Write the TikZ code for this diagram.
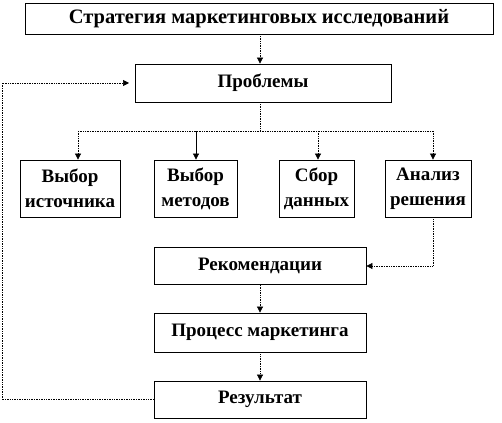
\documentclass[tikz,border=0pt]{standalone}
\usepackage{fontspec}
\setmainfont{Liberation Serif}
\usetikzlibrary{arrows.meta}
\begin{document}
\begin{tikzpicture}[x=1pt,y=-1pt,
  box/.style={draw=black,line width=0.8pt,fill=white,inner sep=0pt,align=center,
    font=\fontsize{19}{25}\selectfont\bfseries},
  dotline/.style={line width=0.7pt,densely dotted},
  dotarrow/.style={dotline,-{Triangle[length=6pt,width=6pt]}},
  solidarrow/.style={line width=0.7pt,-{Triangle[length=6pt,width=6pt]}}]
\useasboundingbox (0,0) rectangle (502,422);
\node[box,minimum width=468pt,minimum height=31pt,font=\fontsize{20.5}{24}\selectfont\bfseries] (strat) at (259,18.5) {Стратегия маркетинговых исследований};
\node[box,minimum width=256pt,minimum height=38pt] (prob) at (263,83) {Проблемы};
\node[box,minimum width=100pt,minimum height=57pt] (b1) at (70,188.5) {Выбор\\источника};
\node[box,minimum width=83pt,minimum height=57pt] (b2) at (195.5,188.5) {Выбор\\методов};
\node[box,minimum width=75pt,minimum height=57pt] (b3) at (316.5,188.5) {Сбор\\данных};
\node[box,minimum width=86pt,minimum height=57pt] (b4) at (428,188.5) {Анализ\\решения};
\node[box,minimum width=212pt,minimum height=37pt] (rec) at (260,266) {Рекомендации};
\node[box,minimum width=212pt,minimum height=39pt] (proc) at (260,332.5) {Процесс маркетинга};
\node[box,minimum width=212pt,minimum height=37pt] (res) at (260,399.5) {Результат};
% branch coordinates
\coordinate (br) at (260,131);
\coordinate (a1) at (78,131);
\coordinate (a2) at (196,131);
\coordinate (a3) at (318,131);
\coordinate (a4) at (433,131);
\coordinate (fbl) at (2,83);
\coordinate (fbend) at (129,83);
% connectors
\draw[dotarrow] (strat.south -| br) -- (br |- prob.north);
\draw[dotline] (br |- prob.south) -- (br);
\draw[dotline] (a1) -- (a4);
\draw[dotarrow] (a1) -- (a1 |- b1.north);
\draw[solidarrow] (a2) -- (a2 |- b2.north);
\draw[dotarrow] (a3) -- (a3 |- b3.north);
\draw[dotarrow] (a4) -- (a4 |- b4.north);
\draw[dotarrow] (a4 |- b4.south) |- (rec.east);
\draw[dotarrow] (br |- rec.south) -- (br |- proc.north);
\draw[dotarrow] (br |- proc.south) -- (br |- res.north);
\draw[dotarrow] (res.west) -| (fbl) -- (fbend);
\end{tikzpicture}
\end{document}
